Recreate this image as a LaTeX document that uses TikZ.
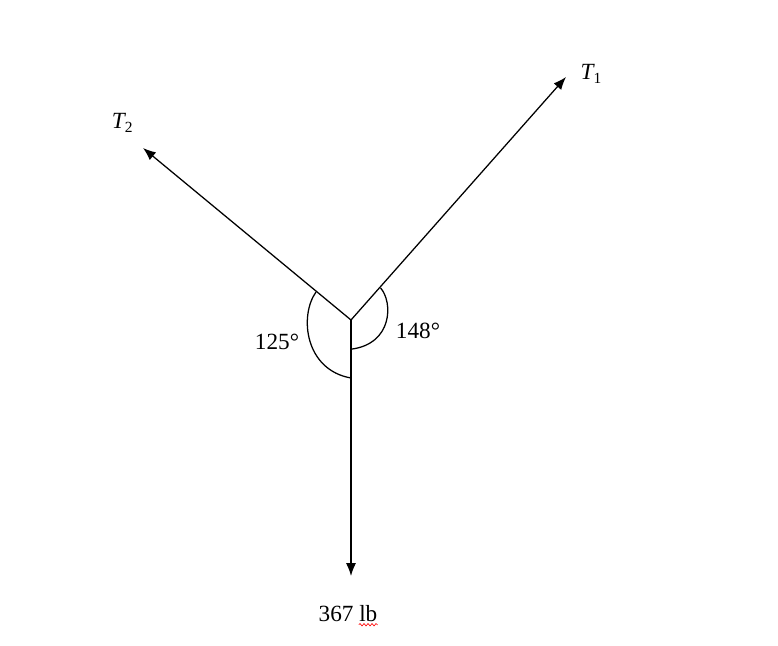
\documentclass[tikz,border=0pt]{standalone}
\usepackage{fontspec}
\setmainfont{Liberation Serif}
\usetikzlibrary{arrows.meta,decorations.pathmorphing}
\newcommand{\tens}[1]{\textit{T}\kern-0.06em\raisebox{-0.3ex}{\fontsize{11}{12}\selectfont #1}}

\begin{document}
\begin{tikzpicture}[
        force/.style={line width=0.9pt, -{Latex[length=3.2mm,width=2.5mm]}},
        anglearc/.style={line width=0.9pt},
        lbl/.style={inner sep=0pt, font=\fontsize{16.5}{19}\selectfont}]
        \useasboundingbox (-8.775,-8.15) rectangle (10.675,8.0);

        % 三个力
        \coordinate (O) at (0, 0);
        \coordinate (t1) at (5.375, 6.075);
        \coordinate (t2) at (-5.2, 4.3);
        \coordinate (w) at (0, -6.4);
        \draw[force] (O) -- (t1);
        \draw[force] (O) -- (t2);
        \draw[force] (O) -- (w);

        % 角的弧线
        \coordinate (a1) at (-0.875, 0.7);
        \coordinate (a2) at (0, -1.45);
        \coordinate (b1) at (0.74, 0.8);
        \coordinate (b2) at (0, -0.73);
        \draw[anglearc] (a1) .. controls (-1.3, 0.1) and (-1.15, -1.25) .. (a2);
        \draw[anglearc] (b1) .. controls (1.05, 0.45) and (1.05, -0.6) .. (b2);

        % 各种记号
        \node[lbl] (lt1) at (6.0, 6.15) {\tens{1}};
        \node[lbl] (lt2) at (-5.72, 4.925) {\tens{2}};
        \node[lbl] (la) at (-1.85, -0.55) {125°};
        \node[lbl] (lb) at (1.675, -0.275) {148°};
        \node[lbl] (lw) at (-0.075, -7.33) {367 lb};
        \draw[red, line width=0.45pt, decorate, decoration={snake, amplitude=0.03cm, segment length=0.1cm}]
            ([xshift=-0.47cm, yshift=-0.09cm]lw.base east) -- ([yshift=-0.09cm]lw.base east);
    \end{tikzpicture}
\end{document}
